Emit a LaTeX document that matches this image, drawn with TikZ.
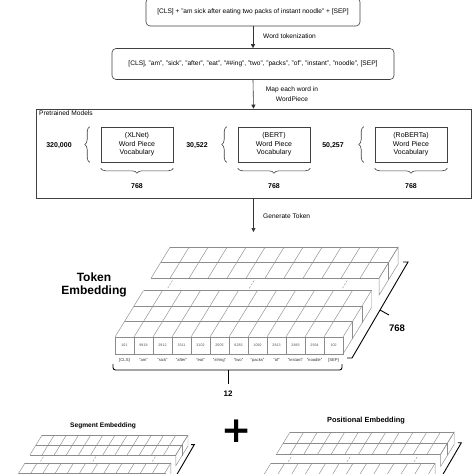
\documentclass[tikz,border=0pt]{standalone}
\usepackage{fontspec}
\setmainfont{Liberation Sans}
\newfontfamily\plusfont{DejaVu Sans}
\usetikzlibrary{arrows.meta,decorations.pathreplacing}

\tikzset{
  flowbox/.style={draw=black!75, rounded corners=4pt, line width=0.6pt, inner sep=0pt, font=\fontsize{6.6}{8}\selectfont},
  vocabbox/.style={draw=black!75, line width=0.6pt, minimum width=72pt, minimum height=35pt, inner sep=0pt, align=center, font=\fontsize{7}{8.5}\selectfont},
  flowarrow/.style={draw=black!80, line width=0.6pt, -{Triangle[length=4pt,width=4pt]}},
  steplabel/.style={font=\fontsize{6.6}{10}\selectfont, inner sep=0pt},
  cell/.style={draw=black!45, line width=0.45pt},
  bracket/.style={draw=black, line width=0.9pt},
  vbrace/.style={decorate, decoration={brace, amplitude=5pt}, draw=black!75, line width=0.6pt},
  boldnum/.style={font=\fontsize{7}{8}\selectfont\bfseries, inner sep=0pt},
  facenum/.style={font=\fontsize{3.6}{4}\selectfont, text=black!70, inner sep=0pt},
  faceword/.style={font=\fontsize{4.2}{5}\selectfont, text=black!80, inner sep=0pt},
  embtitle/.style={font=\bfseries, inner sep=0pt, align=center},
}

% one embedding block: origin = bottom left of the front face
\newcommand{\embblock}[3]{%
  \begin{scope}[shift={(#1,#2)},scale=#3]
    % back layers
    \foreach \k in {3.8,4.8,5.8}
      \draw[cell] ({9.5*\k},{-17-15.5*\k}) -- ++(228,0);
    \foreach \i in {0,...,12}
      \draw[cell] ({19*\i+36.1},-75.9) -- ++(19,-31);
    \draw[cell] (264.1,-75.9) -- (283.1,-106.9) -- (283.1,-89.9) -- (264.1,-58.9) -- cycle;
    \draw[cell] (273.6,-91.4) -- (273.6,-74.4);
    % skipped layers
    \foreach \c in {1.2,5.5,10.4}
      \draw[cell, dash pattern=on 2pt off 1.5pt] ({19*\c+29.9},-65.8) -- ++(4.8,-7.8);
    % front layers
    \foreach \k in {0,...,3}
      \draw[cell] ({9.5*\k},{-17-15.5*\k}) -- ++(228,0);
    \foreach \i in {0,...,12}
      \draw[cell] ({19*\i},-17) -- ++(28.5,-46.5);
    \draw[cell] (0,0) rectangle (228,-17);
    \foreach \i in {1,...,11}
      \draw[cell] ({19*\i},0) -- ++(0,-17);
    \draw[cell] (228,0) -- (256.5,-46.5) -- (256.5,-63.5);
    \foreach \k in {1,2}
      \draw[cell] ({228+9.5*\k},{-17-15.5*\k}) -- ++(0,17);
    % depth bracket
    \draw[bracket] (232,4) -- (237,4) -- (293,-92) -- (288,-92);
    \draw[bracket] (265,-44) -- ++(9,5);
  \end{scope}}

\begin{document}
\begin{tikzpicture}[x=1pt,y=-1pt]
  \useasboundingbox (0,0) rectangle (474,474);
  \clip (0,0) rectangle (474,474);

  % flow at the top
  \node[flowbox, minimum width=214pt, minimum height=28pt] (sent) at (253,12)
    {[CLS] + "am sick after eating two packs of instant noodle" + [SEP]};
  \node[flowbox, minimum width=282pt, minimum height=31pt] (tok) at (253,64)
    {[CLS], "am", "sick", "after", "eat", "\#\#ing", "two", "packs", "of", "instant", "noodle", [SEP]};
  \node[draw=black!75, line width=0.6pt, minimum width=435pt, minimum height=89pt, inner sep=0pt] (pre) at (253.5,153.5) {};
  \node[steplabel, anchor=north west] (prelbl) at (39,111) {Pretrained Models};

  \draw[flowarrow] (sent.south) -- (tok.north);
  \node[steplabel, anchor=west] (toklbl) at (263,36) {Word tokenization};
  \draw[flowarrow] (tok.south) -- (pre.north);
  \node[steplabel, align=center] (maplbl) at (292,94.5) {Map each word in\\WordPiece};
  \coordinate (gen) at (253.5,232);
  \draw[flowarrow] (pre.south) -- (gen);
  \node[steplabel, anchor=west] (genlbl) at (263,216) {Generate Token};

  % vocabularies
  \node[vocabbox] (xlnet) at (137,144.5) {(XLNet)\\Word Piece\\Vocabulary};
  \node[vocabbox] (bert) at (274,144.5) {(BERT)\\Word Piece\\Vocabulary};
  \node[vocabbox] (roberta) at (411,144.5) {(RoBERTa)\\Word Piece\\Vocabulary};

  \draw[vbrace] ([xshift=-11pt]xlnet.south west) -- ([xshift=-11pt]xlnet.north west);
  \draw[vbrace] ([xshift=-11pt]bert.south west) -- ([xshift=-11pt]bert.north west);
  \draw[vbrace] ([xshift=-11pt]roberta.south west) -- ([xshift=-11pt]roberta.north west);
  \node[boldnum] (vx) at (59,146) {320,000};
  \node[boldnum] (vb) at (197,146) {30,522};
  \node[boldnum] (vr) at (333,146) {50,257};

  \draw[vbrace] ([yshift=-6pt]xlnet.south east) -- ([yshift=-6pt]xlnet.south west);
  \draw[vbrace] ([yshift=-6pt]bert.south east) -- ([yshift=-6pt]bert.south west);
  \draw[vbrace] ([yshift=-6pt]roberta.south east) -- ([yshift=-6pt]roberta.south west);
  \node[boldnum] (dx) at (137,186) {768};
  \node[boldnum] (db) at (274,186) {768};
  \node[boldnum] (dr) at (411,186) {768};

  % token embedding
  \embblock{115}{354}{1}
  \node[embtitle, font=\fontsize{12}{13}\selectfont\bfseries] (tokemb) at (94,285) {Token\\Embedding};
  \foreach \n [count=\i from 0] in {101,9918,2912,3311,3102,2005,8283,1092,2813,2883,2934,102}
    \node[facenum] (id\i) at ({124.5+19*\i},345.5) {\n};
  \foreach \w [count=\i from 0] in {{[CLS]},{"am"},{"sick"},{"after"},{"eat"},{"\#\#ing"},{"two"},{"packs"},{"of"},{"instant"},{"noodle"},{[SEP]}}
    \node[faceword] (w\i) at ({124.5+19*\i},360) {\w};
  \coordinate (b12l) at (113,364);
  \coordinate (b12m) at (228,370);
  \coordinate (b12r) at (342,364);
  \coordinate (b12t) at (228,384);
  \draw[bracket, rounded corners=2.5pt] (b12l) |- (b12m) -| (b12r);
  \draw[bracket] (b12m) -- (b12t);
  \node[boldnum, font=\fontsize{8}{9}\selectfont\bfseries] (len) at (228,394) {12};
  \node[boldnum, font=\fontsize{9.5}{10}\selectfont\bfseries] (dim) at (397,328) {768};

  % segment and positional embedding
  \node[embtitle, font=\fontsize{6.6}{8}\selectfont\bfseries] (segemb) at (103,426) {Segment Embedding};
  \node[embtitle, font=\fontsize{7.4}{8}\selectfont\bfseries] (posemb) at (366,421) {Positional Embedding};
  \node[inner sep=0pt, font=\plusfont\fontsize{36}{36}\selectfont\bfseries] (plus) at (237,431) {+};
  \embblock{6.8}{503.5}{0.64}
  \embblock{250.4}{509}{0.72}
\end{tikzpicture}
\end{document}
